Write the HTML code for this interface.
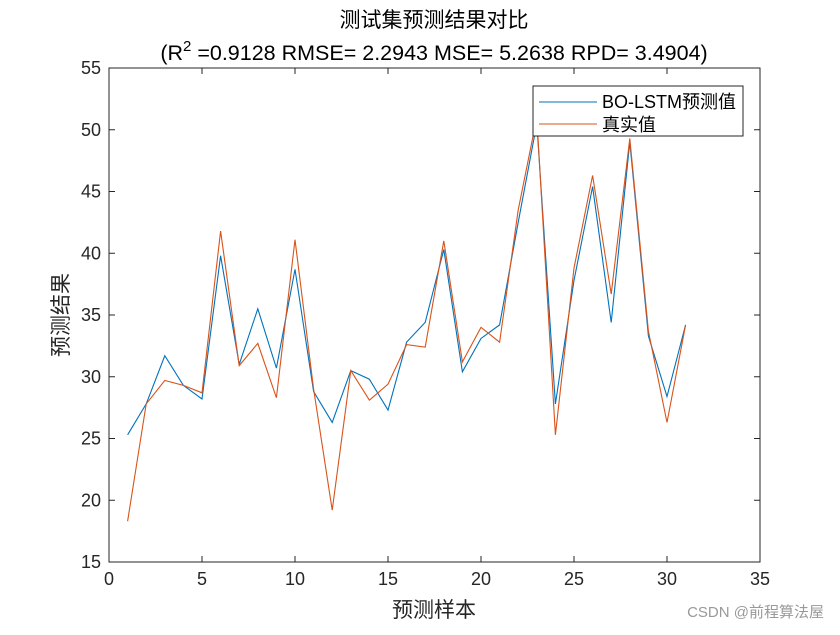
<!DOCTYPE html>
<html><head><meta charset="utf-8"><style>
body{margin:0;background:#fff;}
svg text{font-family:"Liberation Sans","Noto Sans CJK SC",sans-serif;}
</style></head><body>
<svg id="chart" width="840" height="630" viewBox="0 0 840 630" xmlns="http://www.w3.org/2000/svg">
<rect x="0" y="0" width="840" height="630" fill="#fff"/>
<rect x="109" y="68" width="651" height="494" fill="#fff" stroke="#262626" stroke-width="1"/>
<text x="434" y="27" text-anchor="middle" font-size="21" fill="#000">测试集预测结果对比</text>
<text x="434" y="60" text-anchor="middle" font-size="21.5" fill="#000">(R<tspan dy="-9" font-size="15">2</tspan><tspan dy="9"> =0.9128 RMSE= 2.2943 MSE= 5.2638 RPD= 3.4904)</tspan></text>
<g id="xticks"></g><g id="yticks"></g><g id="series"></g>
<text x="434" y="617" text-anchor="middle" font-size="21" fill="#262626">预测样本</text>
<text transform="translate(68,315) rotate(-90)" text-anchor="middle" font-size="21" fill="#262626">预测结果</text>
<g>
<rect x="533" y="86" width="210" height="50" fill="#fff" stroke="#262626" stroke-width="1"/>
<line x1="539" y1="102" x2="597" y2="102" stroke="#0072BD" stroke-width="1"/>
<text x="602" y="108" font-size="18" fill="#000">BO-LSTM预测值</text>
<line x1="539" y1="124" x2="597" y2="124" stroke="#D95319" stroke-width="1"/>
<text x="602" y="131" font-size="18" fill="#000">真实值</text>
</g>
<text x="824" y="617" text-anchor="end" font-size="15" fill="#999">CSDN @前程算法屋</text>
</svg>
<script>
const xTicks=[0,5,10,15,20,25,30,35];
const yTicks=[15,20,25,30,35,40,45,50,55];
const predicted=[25.3,27.8,31.7,29.3,28.2,39.8,31.0,35.5,30.7,38.7,28.8,26.3,30.5,29.8,27.3,32.8,34.4,40.3,30.4,33.1,34.2,42.5,50.5,27.8,37.8,45.4,34.4,49.0,33.3,28.4,34.2];
const actual=[18.3,27.8,29.7,29.3,28.7,41.8,30.9,32.7,28.3,41.1,29.0,19.2,30.5,28.1,29.4,32.6,32.4,41.0,31.2,34.0,32.8,43.5,51.0,25.3,38.8,46.3,36.7,49.3,33.7,26.3,34.2];
const NS="http://www.w3.org/2000/svg";
const X0=109,X1=760,Y0=562,Y1=68;
const sx=v=>X0+(v-0)/(35-0)*(X1-X0);
const sy=v=>Y0-(v-15)/(55-15)*(Y0-Y1);
function mk(t,a,p){const e=document.createElementNS(NS,t);for(const k in a)e.setAttribute(k,a[k]);p.appendChild(e);return e;}
const xg=document.getElementById('xticks'),yg=document.getElementById('yticks'),sg=document.getElementById('series');
xTicks.forEach(v=>{const x=sx(v);
mk('line',{x1:x,y1:Y0,x2:x,y2:Y0-6,stroke:'#262626'},xg);
mk('line',{x1:x,y1:Y1,x2:x,y2:Y1+6,stroke:'#262626'},xg);
const t=mk('text',{x:x,y:Y0+23,'text-anchor':'middle','font-size':18,fill:'#262626'},xg);t.textContent=v;

});
yTicks.forEach(v=>{const y=sy(v);
mk('line',{x1:X0,y1:y,x2:X0+6,y2:y,stroke:'#262626'},yg);
mk('line',{x1:X1,y1:y,x2:X1-6,y2:y,stroke:'#262626'},yg);
const t=mk('text',{x:X0-8,y:y+6,'text-anchor':'end','font-size':18,fill:'#262626'},yg);t.textContent=v;

});
function line(arr,color,name){const pts=arr.map((v,i)=>sx(i+1)+','+sy(v)).join(' ');
const p=mk('polyline',{points:pts,fill:'none',stroke:color,'stroke-width':1.1},sg);

}
line(predicted,'#0072BD','predicted-line');
line(actual,'#D95319','true-value-line');
</script>
</body></html>
